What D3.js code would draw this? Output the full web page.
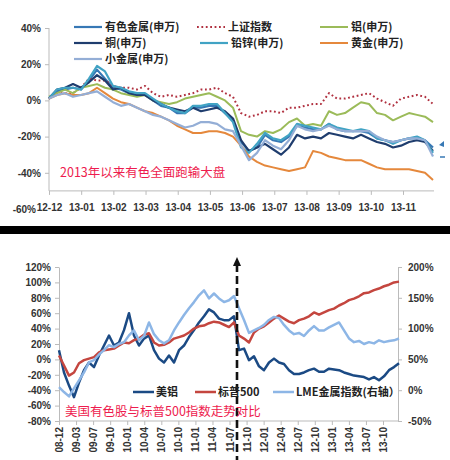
<!DOCTYPE html>
<html>
<head>
<meta charset="utf-8">
<script src="https://cdn.jsdelivr.net/npm/d3@7"></script>
<style>
  body { margin: 0; background: #fff; }
  svg { display: block; }
</style>
</head>
<body>
<div id="chart"></div>
<script>
// ===== Données : graphique du haut (variation cumulée, %) =====
const topMonths = ["12-12", "13-01", "13-02", "13-03", "13-04", "13-05", "13-06", "13-07", "13-08", "13-09", "13-10", "13-11"];
const topTicks = [40, 20, 0, -20, -40, -60];

const youSe = [1, 5, 6, 7, 6, 11, 17, 12, 7, 6, 4, 3, 3, 0, -3, -4, -7, -7, -4, -4, -3, -3, -7, -11, -23, -28, -26, -19, -22, -23, -20, -14, -15, -16, -16, -13, -16, -17, -17, -17, -18, -21, -22, -23, -22, -21, -21, -22, -26];
const shangZheng = [1, 4, 4, 4, 7, 12, 11, 11, 8, 7, 7, 6, 8, 4, 2, 3, 2, 3, 4, 6, 6, 7, 4, 2, -7, -9, -8, -6, -6, -7, -4, -4, -3, -2, -2, 4, 1, 1, 2, 3, 4, 1, -1, -3, 1, 2, 3, 2, -2];
const lv = [2, 4, 6, 4, 7, 8, 9, 7, 6, 4, 3, 2, 3, 0, -1, -2, -1, 1, 2, 3, 4, 2, 0, -4, -17, -19, -20, -17, -18, -16, -12, -10, -14, -13, -14, -6, -8, -7, -4, -1, -2, -7, -8, -11, -9, -7, -8, -9, -12];
const tong = [1, 6, 7, 9, 7, 10, 14, 11, 6, 7, 4, 3, 3, 0, -2, -4, -5, -6, -4, -6, -5, -4, -6, -10, -22, -28, -26, -24, -27, -30, -26, -19, -21, -20, -21, -18, -19, -20, -21, -19, -21, -23, -24, -26, -25, -23, -22, -23, -28];
const qianXin = [1, 6, 7, 7, 6, 12, 19, 16, 8, 7, 5, 4, 4, 1, -2, -4, -6, -7, -3, -3, -2, -2, -7, -12, -26, -29, -24, -18, -21, -22, -19, -13, -14, -15, -16, -13, -15, -16, -17, -16, -17, -21, -22, -24, -22, -21, -20, -22, -29];
const huangJin = [1, 3, 4, 3, 3, 4, 7, 4, 1, -1, -2, -4, -6, -7, -9, -11, -14, -16, -18, -18, -17, -17, -18, -20, -25, -31, -34, -36, -37, -38, -39, -38, -37, -28, -29, -31, -32, -33, -33, -33, -35, -37, -38, -38, -38, -38, -39, -40, -44];
const xiaoJinShu = [1, 3, 4, 2, 3, 4, 5, 2, -1, -3, -2, -4, -6, -8, -9, -11, -13, -15, -14, -12, -12, -13, -16, -17, -25, -33, -29, -22, -25, -27, -22, -14, -16, -17, -16, -14, -16, -17, -17, -17, -17, -20, -22, -23, -22, -21, -21, -22, -31];

// ===== Données : graphique du bas =====
const botMonths = ["08-12", "09-03", "09-07", "09-10", "10-01", "10-04", "10-07", "10-10", "11-01", "11-04", "11-07", "11-10", "12-01", "12-04", "12-07", "12-10", "13-01", "13-04", "13-07", "13-10"];
const leftTicks = [120, 100, 80, 60, 40, 20, 0, -20, -40, -60, -80];
const rightTicks = [200, 150, 100, 50, 0, -50];

const meiLv = [12, -17, -34, -49, -30, -14, -4, -10, 5, 18, 31, 18, 22, 38, 60, 31, 18, 27, 31, 12, 1, -4, 5, -4, 12, 18, 29, 38, 48, 56, 65, 61, 53, 51, 51, 56, 12, 14, -1, 4, -9, -14, -4, 1, -4, -6, -14, -19, -19, -17, -14, -12, -16, -16, -12, -13, -14, -17, -19, -21, -22, -23, -26, -23, -27, -22, -14, -10, -5];
const sp500 = [5, -8, -21, -17, -5, -1, 1, 3, 9, 12, 13, 14, 18, 22, 21, 25, 27, 32, 34, 22, 18, 19, 22, 27, 29, 31, 35, 40, 43, 44, 47, 49, 48, 45, 42, 48, 31, 27, 22, 35, 40, 43, 48, 53, 57, 53, 49, 47, 51, 53, 56, 61, 58, 61, 64, 66, 70, 73, 77, 79, 82, 86, 87, 90, 92, 95, 97, 100, 101];
const lme = [5, -3, -10, 3, 16, 29, 45, 49, 58, 65, 73, 70, 75, 78, 89, 97, 81, 88, 110, 91, 81, 76, 81, 97, 110, 122, 133, 143, 154, 162, 149, 157, 149, 143, 146, 153, 133, 114, 93, 97, 101, 106, 114, 119, 117, 106, 97, 91, 93, 88, 97, 104, 97, 97, 102, 106, 110, 97, 84, 78, 80, 75, 78, 76, 81, 78, 80, 81, 84];

const tickFont = "Arial, 'Liberation Sans', sans-serif";
const cjkFont = "'Noto Sans CJK SC', 'Noto Sans', sans-serif";

const svg = d3
  .select("#chart")
  .append("svg")
  .attr("width", 450)
  .attr("height", 460);

svg.append("rect").attr("width", 450).attr("height", 460).attr("fill", "#fff");

// ===============================
// 1️⃣ Graphique du haut
// ===============================
const xTop = d3.scaleLinear().domain([0, youSe.length - 1]).range([49, 433]);
const xTopMonth = d3.scalePoint().domain(topMonths).range([49, 403]);
const yTop = d3.scaleLinear().domain([-60, 40]).range([209, 28]);

// axe Y
svg
  .append("line")
  .attr("x1", 49)
  .attr("x2", 49)
  .attr("y1", yTop(40))
  .attr("y2", yTop(-50))
  .attr("stroke", "#bbb");

const gYTop = svg
  .append("g")
  .attr("transform", "translate(49,0)")
  .call(d3.axisLeft(yTop).tickValues(topTicks).tickFormat((d) => d + "%").tickSize(4));
gYTop.select(".domain").remove();
gYTop.selectAll("line").attr("stroke", "#bbb").style("display", (d) => (d === -60 ? "none" : null));
gYTop
  .selectAll("text")
  .attr("x", (d) => (d === -60 ? -13 : -8))
  .attr("fill", "#333")
  .style("font", `bold 10px ${tickFont}`);

// axe X
const gXTop = svg
  .append("g")
  .attr("transform", `translate(0,${yTop(-50)})`)
  .call(d3.axisBottom(xTopMonth).tickSize(4).tickSizeOuter(0));
gXTop.select(".domain").attr("d", `M49,0H434`).attr("stroke", "#bbb");
gXTop.selectAll("line").attr("stroke", "#bbb");
gXTop
  .selectAll("text")
  .attr("y", 13)
  .attr("fill", "#333")
  .style("font", `bold 10px ${tickFont}`);

const topSeries = [
  { name: "有色金属(申万)", values: youSe, color: "#3778b5", width: 2.2 },
  { name: "上证指数", values: shangZheng, color: "#b0303f", width: 2, dash: "1.8,2.6" },
  { name: "铝(申万)", values: lv, color: "#9bbb59", width: 2 },
  { name: "铜(申万)", values: tong, color: "#1f3d6e", width: 2.2 },
  { name: "铅锌(申万)", values: qianXin, color: "#41a3c4", width: 2.2 },
  { name: "黄金(申万)", values: huangJin, color: "#e5883c", width: 2 },
  { name: "小金属(申万)", values: xiaoJinShu, color: "#94aed6", width: 2.2 },
];

const lineTop = d3
  .line()
  .x((d, i) => xTop(i))
  .y((d) => yTop(d));

svg
  .append("g")
  .selectAll("path")
  .data(topSeries)
  .enter()
  .append("path")
  .attr("fill", "none")
  .attr("stroke", (d) => d.color)
  .attr("stroke-width", (d) => d.width)
  .attr("stroke-dasharray", (d) => d.dash || null)
  .attr("stroke-linejoin", "round")
  .attr("d", (d) => lineTop(d.values));

// petits restes de légende à droite
svg
  .append("path")
  .attr("d", "M439,145L444,141L444,147Z")
  .attr("fill", "#3778b5");
svg
  .append("line")
  .attr("x1", 440)
  .attr("x2", 445)
  .attr("y1", 157)
  .attr("y2", 157)
  .attr("stroke", "#3778b5")
  .attr("stroke-width", 1.5);

// légende du haut
const legTop = [
  { s: 0, x: 74, y: 27 },
  { s: 1, x: 197, y: 27 },
  { s: 2, x: 320, y: 27 },
  { s: 3, x: 74, y: 43 },
  { s: 4, x: 200, y: 43 },
  { s: 5, x: 320, y: 43 },
  { s: 6, x: 74, y: 59 },
];
const legTopG = svg
  .append("g")
  .selectAll("g")
  .data(legTop)
  .enter()
  .append("g")
  .attr("transform", (d) => `translate(${d.x},${d.y})`);
legTopG
  .append("line")
  .attr("x1", 0)
  .attr("x2", 28)
  .attr("stroke", (d) => topSeries[d.s].color)
  .attr("stroke-width", (d) => topSeries[d.s].width)
  .attr("stroke-dasharray", (d) => topSeries[d.s].dash || null);
legTopG
  .append("text")
  .attr("x", 31)
  .attr("dy", "0.36em")
  .attr("fill", "#222")
  .style("font", `bold 11px ${cjkFont}`)
  .text((d) => topSeries[d.s].name);

svg
  .append("text")
  .attr("x", 60)
  .attr("y", 177)
  .attr("fill", "#ee1c4e")
  .style("font", `12.5px ${cjkFont}`)
  .text("2013年以来有色全面跑输大盘");

// bande noire
svg.append("rect").attr("x", 0).attr("y", 226).attr("width", 450).attr("height", 8).attr("fill", "#000");

// ===============================
// 2️⃣ Graphique du bas
// ===============================
const xBot = d3.scaleLinear().domain([0, meiLv.length - 1]).range([59, 399]);
const xBotMonth = d3.scalePoint().domain(botMonths).range([59, 383]);
const yLeft = d3.scaleLinear().domain([-80, 120]).range([421, 267]);
const yRight = d3.scaleLinear().domain([-50, 200]).range([421, 267]);

const gYLeft = svg
  .append("g")
  .attr("transform", "translate(59,0)")
  .call(d3.axisLeft(yLeft).tickValues(leftTicks).tickFormat((d) => d + "%").tickSize(4).tickSizeOuter(0));
gYLeft.select(".domain").attr("stroke", "#bbb");
gYLeft.selectAll("line").attr("stroke", "#bbb");
gYLeft
  .selectAll("text")
  .attr("x", -8)
  .attr("fill", "#333")
  .style("font", `bold 10px ${tickFont}`);

const gYRight = svg
  .append("g")
  .attr("transform", "translate(398,0)")
  .call(d3.axisRight(yRight).tickValues(rightTicks).tickFormat((d) => d + "%").tickSize(4).tickSizeOuter(0));
gYRight.select(".domain").attr("stroke", "#bbb");
gYRight.selectAll("line").attr("stroke", "#bbb");
gYRight
  .selectAll("text")
  .attr("x", 10)
  .attr("fill", "#333")
  .style("font", `bold 10px ${tickFont}`);

const gXBot = svg
  .append("g")
  .attr("transform", `translate(0,${yLeft(-80)})`)
  .call(d3.axisBottom(xBotMonth).tickSize(4).tickSizeOuter(0));
gXBot.select(".domain").attr("d", "M59,0H398").attr("stroke", "#bbb");
gXBot.selectAll("line").attr("stroke", "#bbb");
gXBot
  .selectAll("text")
  .attr("transform", "rotate(-90)")
  .attr("x", -6)
  .attr("y", 0)
  .attr("dy", "0.35em")
  .style("text-anchor", "end")
  .attr("fill", "#333")
  .style("font", `bold 10px ${tickFont}`);

const botSeries = [
  { name: "美铝", values: meiLv, color: "#1b4a84", y: yLeft },
  { name: "标普500", values: sp500, color: "#c4463f", y: yLeft },
  { name: "LME金属指数(右轴）", values: lme, color: "#8db6e6", y: yRight },
];

svg
  .append("g")
  .selectAll("path")
  .data(botSeries)
  .enter()
  .append("path")
  .attr("fill", "none")
  .attr("stroke", (d) => d.color)
  .attr("stroke-width", 2.5)
  .attr("stroke-linejoin", "round")
  .attr("d", (d) =>
    d3
      .line()
      .x((v, i) => xBot(i))
      .y((v) => d.y(v))(d.values)
  );

// flèche pointillée
svg
  .append("line")
  .attr("x1", 237)
  .attr("x2", 237)
  .attr("y1", 264)
  .attr("y2", 460)
  .attr("stroke", "#111")
  .attr("stroke-width", 2.6)
  .attr("stroke-dasharray", "8,4");
svg.append("path").attr("d", "M237,257L233,266L241,266Z").attr("fill", "#111");

// légende du bas
const legBot = [
  { s: 0, x: 133 },
  { s: 1, x: 195 },
  { s: 2, x: 273 },
];
const legBotG = svg
  .append("g")
  .selectAll("g")
  .data(legBot)
  .enter()
  .append("g")
  .attr("transform", (d) => `translate(${d.x},392)`);
legBotG
  .append("line")
  .attr("x1", 0)
  .attr("x2", 21)
  .attr("stroke", (d) => botSeries[d.s].color)
  .attr("stroke-width", 2.5);
legBotG
  .append("text")
  .attr("x", 23)
  .attr("dy", "0.36em")
  .attr("fill", "#222")
  .style("font", `bold 11px ${cjkFont}`)
  .text((d) => botSeries[d.s].name);

svg
  .append("text")
  .attr("x", 65)
  .attr("y", 416)
  .attr("fill", "#ee1c4e")
  .style("font", `12.5px ${cjkFont}`)
  .text("美国有色股与标普500指数走势对比");
</script>
</body>
</html>
